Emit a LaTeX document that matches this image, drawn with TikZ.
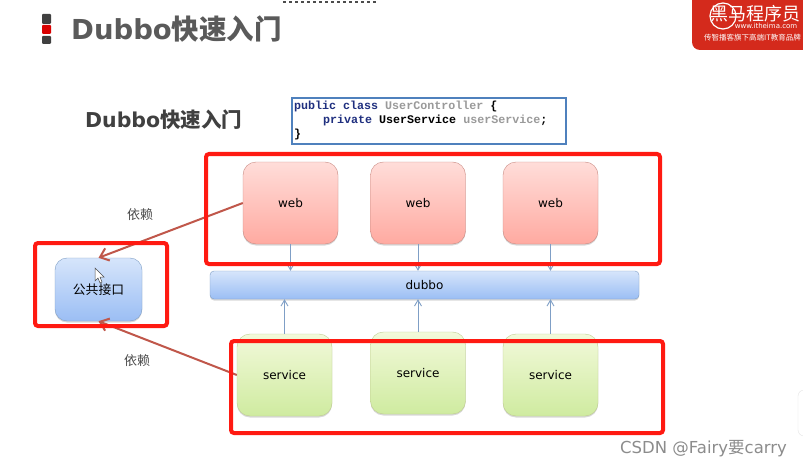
\documentclass[tikz,border=0pt]{standalone}
\usepackage{fontspec}
\setmainfont{DejaVu Sans}
\setmonofont{Liberation Mono}
\newfontfamily\cjk{Noto Sans CJK SC}
\usetikzlibrary{arrows.meta,shadows}
\definecolor{titlegray}{HTML}{5A5A5A}
\definecolor{framered}{HTML}{FF1A12}
\definecolor{depred}{HTML}{C0574A}
\definecolor{linkblue}{HTML}{7F9FC6}
\definecolor{codeblue}{HTML}{4F81BD}
\definecolor{kwblue}{HTML}{1F2F7F}
\definecolor{idgray}{HTML}{9A9A9A}
\definecolor{logored}{HTML}{D42A1C}
\definecolor{webtop}{HTML}{FFDDD9}
\definecolor{webbottom}{HTML}{FFAAA1}
\definecolor{webedge}{HTML}{C98A82}
\definecolor{servicetop}{HTML}{F2F9DA}
\definecolor{servicebottom}{HTML}{CFEBA0}
\definecolor{serviceedge}{HTML}{BFCC90}
\definecolor{bluetop}{HTML}{D6E5FB}
\definecolor{bluebottom}{HTML}{9BBEF4}
\tikzset{
    softshadow/.style={drop shadow={shadow xshift=0pt,shadow yshift=-1.5pt,opacity=.3}},
    webbox/.style={draw=webedge,rounded corners=13pt,minimum width=95pt,minimum height=82pt,top color=webtop,bottom color=webbottom,softshadow,font=\fontsize{12}{14}\selectfont},
    servicebox/.style={draw=serviceedge,rounded corners=13pt,minimum width=95pt,minimum height=82pt,top color=servicetop,bottom color=servicebottom,softshadow,font=\fontsize{12}{14}\selectfont},
    bluebox/.style={draw=linkblue,top color=bluetop,bottom color=bluebottom,softshadow,font=\fontsize{12}{14}\selectfont},
    redframe/.style={draw=framered,line width=4pt,rounded corners=3pt},
    deparrow/.style={draw=depred,line width=2pt,-{Straight Barb[length=8pt,width=13pt]}},
    linkarrow/.style={draw=linkblue,line width=.9pt,-{Straight Barb[length=6pt,width=7pt]}},
    labeltext/.style={font=\cjk\fontsize{13}{15}\selectfont,text=black!70}
}
\begin{document}
\begin{tikzpicture}[x=1pt,y=-1pt]
    \useasboundingbox (0,0) rectangle (803,468);
    \fill[white] (0,0) rectangle (803,468);

    % head of the slide
    \fill[black!75,rounded corners=1pt] (42,14) rectangle (51,24);
    \fill[red!85!black,rounded corners=1pt] (42,25) rectangle (51,34);
    \fill[black!75,rounded corners=1pt] (42,36) rectangle (51,44);
    \node[anchor=west,inner sep=0pt,text=titlegray] (headtitle) at (71,29) {\fontsize{27.5}{30}\selectfont\bfseries Dubbo{\cjk\bfseries 快速入门}};
    \node[anchor=west,inner sep=0pt,text=black!75] (subtitle) at (85,120) {\fontsize{20.5}{24}\selectfont\bfseries Dubbo{\cjk\bfseries 快速入门}};
    \draw[black!70,line width=1.2pt,dashed] (283,2) -- (378,2);

    % logo
    \begin{scope}
        \clip (0,0) rectangle (803,468);
        \fill[logored,rounded corners=8pt] (692,-10) rectangle (815,50);
        \draw[white,line width=1.2pt] (723,16) circle (13);
        \node[text=white,inner sep=0pt] (logoname) at (755,14) {\cjk\fontsize{18}{20}\selectfont 黑马程序员};
        \node[text=white,inner sep=0pt] (logourl) at (766,26) {\fontsize{7}{8}\selectfont www.itheima.com};
        \node[anchor=west,text=white,inner sep=0pt] (logotext) at (704,38) {\cjk\fontsize{7.5}{8}\selectfont 传智播客旗下高端IT教育品牌};
        \draw[black!10,fill=white,rounded corners=6pt] (798,390) rectangle (815,436);
    \end{scope}

    % code
    \node[draw=codeblue,line width=2pt,anchor=north west,minimum width=274pt,minimum height=46pt,inner sep=0pt] (codebox) at (291,97) {};
    \node[anchor=west,inner sep=0pt] (codeone) at (294,106) {\ttfamily\bfseries\fontsize{11.67}{13}\selectfont\textcolor{kwblue}{public class} \textcolor{idgray}{UserController} \{};
    \node[anchor=west,inner sep=0pt] (codetwo) at (323,120) {\ttfamily\bfseries\fontsize{11.67}{13}\selectfont\textcolor{kwblue}{private} UserService \textcolor{idgray}{userService};};
    \node[anchor=west,inner sep=0pt] (codethree) at (294,134) {\ttfamily\bfseries\fontsize{11.67}{13}\selectfont\}};

    % boxes
    \node[webbox] (webone) at (290.5,203) {web};
    \node[webbox] (webtwo) at (418,203) {web};
    \node[webbox] (webthree) at (550.5,203) {web};
    \node[bluebox,rounded corners=4pt,minimum width=429pt,minimum height=28pt] (dubbo) at (424.5,285) {dubbo};
    \node[servicebox] (serviceone) at (284.5,375) {service};
    \node[servicebox] (servicetwo) at (418,373) {service};
    \node[servicebox] (servicethree) at (550.5,375) {service};
    \node[bluebox,rounded corners=12pt,minimum width=87pt,minimum height=63pt,font=\cjk\fontsize{12.8}{15}\selectfont] (port) at (98.5,289.5) {公共接口};

    % links to dubbo
    \foreach \name in {webone,webtwo,webthree}
        \draw[linkarrow] (\name.south) -- (\name.south |- dubbo.north);
    \foreach \name in {serviceone,servicetwo,servicethree}
        \draw[linkarrow] (\name.north) -- (\name.north |- dubbo.south);

    % dependencies
    \draw[deparrow] (webone.west) -- (port.north);
    \draw[deparrow] (serviceone.west) -- (port.south);
    \node[labeltext] (depone) at (140,215) {依赖};
    \node[labeltext] (deptwo) at (137,361) {依赖};

    % red frames
    \draw[redframe] (206,154) rectangle (660,264);
    \draw[redframe] (35,243) rectangle (167,326);
    \draw[redframe] (231,341) rectangle (663,433);

    % pointer
    \draw[black!70,fill=white,line width=.5pt] (95,268) -- (95,281) -- (98,278) -- (100,283) -- (102,282) -- (100,277) -- (104,277) -- cycle;

    % watermark
    \node[anchor=west,inner sep=0pt,text=black!45] (mark) at (620,449) {\fontsize{16.5}{18}\selectfont CSDN @Fairy{\cjk 要}carry};
\end{tikzpicture}
\end{document}
